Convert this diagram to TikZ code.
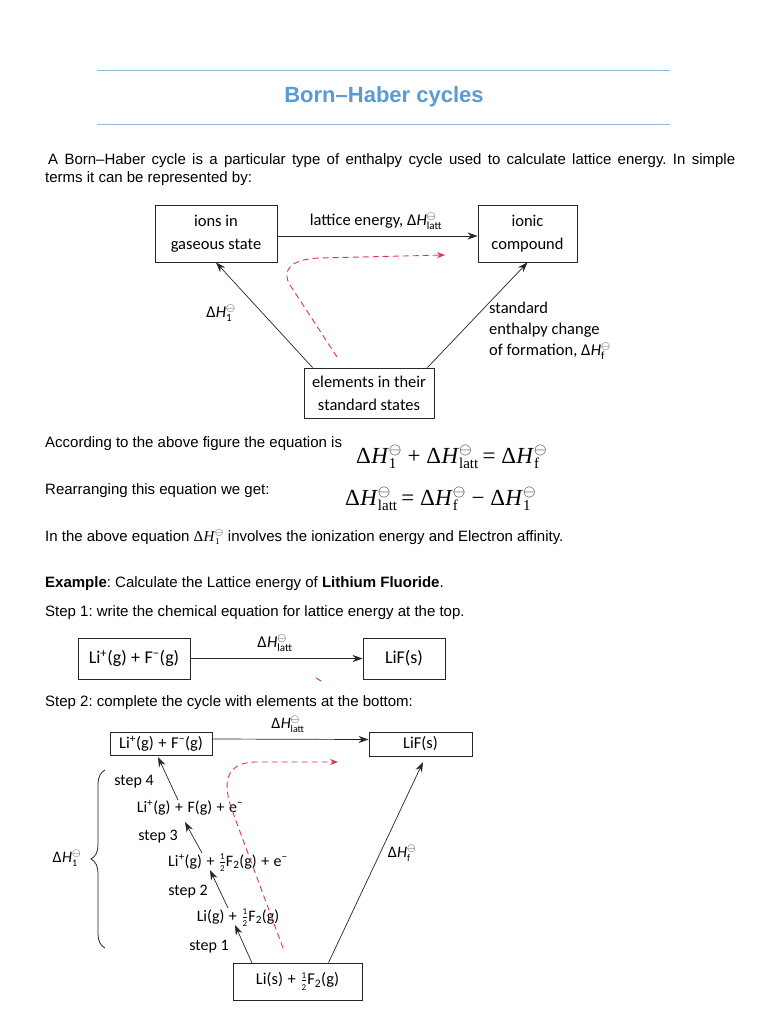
\RequirePackage{fix-cm}
\documentclass[tikz,border=0pt]{standalone}
\usepackage{fontspec}
\setmainfont{Liberation Sans}
\newfontfamily\dfont{Carlito}
\newfontfamily\sfont{Liberation Serif}
\usetikzlibrary{arrows.meta,decorations.pathreplacing}
\definecolor{titleblue}{RGB}{91,155,213}
\definecolor{ruleblue}{RGB}{141,185,232}
\definecolor{dashred}{RGB}{226,52,72}
\frenchspacing
\newcommand{\dHs}[2]{\ensuremath{\mbox{Δ\kern0.3pt\textit{H}}^{\ominus}_{\mbox{\fontsize{#2}{#2}\selectfont #1}}}}
\newcommand{\hlf}{\ensuremath{\frac{\mbox{\fontsize{9}{9}\selectfont 1}}{\mbox{\fontsize{9}{9}\selectfont 2}}}}
\newcommand{\pl}{\hspace{4.5pt}+\hspace{4.5pt}}
\tikzset{
  body/.style={anchor=base west, inner sep=0pt, font=\fontsize{15}{18}\selectfont},
  dbox/.style={draw=black!85, line width=0.9pt, align=center, inner sep=0pt, font=\dfont\fontsize{16.5}{23}\selectfont},
  dboxm/.style={draw=black!85, line width=0.9pt, align=center, inner sep=0pt, font=\dfont\fontsize{18}{22}\selectfont},
  dboxs/.style={draw=black!85, line width=0.9pt, align=center, inner sep=0pt, font=\dfont\fontsize{16.5}{18}\selectfont},
  dtext/.style={inner sep=0pt, font=\dfont\fontsize{16.5}{21}\selectfont},
  dtexts/.style={inner sep=0pt, font=\dfont\fontsize{16}{18}\selectfont},
  arr/.style={-{Stealth[length=10pt,width=7pt]}, line width=0.7pt, black!85},
  reddash/.style={dash pattern=on 6pt off 4pt, dashred, line width=0.9pt, -{Stealth[length=8pt,width=6pt]}},
  eqn/.style={anchor=base west, inner sep=0pt, font=\sfont\fontsize{23}{26}\selectfont}
}
\begin{document}
\begin{tikzpicture}[x=1pt,y=-1pt]
\useasboundingbox[fill=white] (0,0) rectangle (768,1024);
% title
\draw[ruleblue, line width=1pt] (97,71) -- (670,71);
\draw[ruleblue, line width=1pt] (97,125) -- (670,125);
\node[inner sep=0pt, text=titleblue, font=\bfseries\fontsize{22}{26}\selectfont] (title) at (384,97) {Born–Haber cycles};
% paragraph
\node[body] (p1) at (48,165) {\makebox[687pt][s]{A Born–Haber cycle is a particular type of enthalpy cycle used to calculate lattice energy. In simple}};
\node[body] (p2) at (45,183) {terms it can be represented by:};
% diagram 1
\node[dbox, minimum width=122pt, minimum height=57pt] (ions) at (216,233.5) {ions in\\gaseous state};
\node[dbox, minimum width=99pt, minimum height=57pt] (ionic) at (527.5,233.5) {ionic\\compound};
\node[dbox, minimum width=130pt, minimum height=50pt] (elem) at (369,393) {elements in their\\standard states};
\draw[arr] ([yshift=-2.5pt]ions.east) -- ([yshift=-2.5pt]ionic.west);
\node[dtext] (latt) at (376,221) {lattice energy, \dHs{latt}{11}};
\draw[arr] ([xshift=9pt]elem.north west) -- (ions.south);
\draw[arr] ([xshift=-7pt]elem.north east) -- (ionic.south);
\node[dtext] (dh1) at (221,313) {\dHs{1}{11}};
\node[dtext, anchor=north west, align=left] (sef) at (489,302) {standard\\enthalpy change\\of formation, \dHs{f}{11}};
\coordinate (ra) at (337,357);
\coordinate (rb) at (290,285);
\coordinate (rc) at (320,258);
\coordinate (rd) at (445,255);
\draw[reddash] (ra) -- (rb) .. controls (282,272) and (288,259) .. (rc) -- (rd);
% equations
\node[body] (t1) at (45,447) {According to the above figure the equation is};
\node[eqn] (eq1) at (356,463) {\dHs{1}{15} + \dHs{latt}{15}\,= \dHs{f}{15}};
\node[body] (t2) at (45,494) {Rearranging this equation we get:};
\node[eqn] (eq2) at (345,505) {\dHs{latt}{15}\,= \dHs{f}{15} − \dHs{1}{15}};
\node[body] (t3) at (45,541) {In the above equation {\sfont\fontsize{15}{17}\selectfont\dHs{1}{9}} involves the ionization energy and Electron affinity.};
\node[body] (t4) at (45,587) {\textbf{Example}: Calculate the Lattice energy of \textbf{Lithium Fluoride}.};
\node[body] (t5) at (45,616) {Step 1: write the chemical equation for lattice energy at the top.};
% step 1 diagram
\node[dboxm, minimum width=112pt, minimum height=41pt] (a1) at (134,658.5) {Li\textsuperscript{+}(g)\pl F\textsuperscript{−}(g)};
\node[dboxm, minimum width=82pt, minimum height=41pt] (b1) at (404,658.5) {LiF(s)};
\draw[arr] (a1) -- (b1);
\node[dtext] (l1) at (275,643) {\dHs{latt}{11}};
\coordinate (m1a) at (316,678);
\coordinate (m1b) at (321,681);
\draw[dashred, line width=1pt] (m1a) -- (m1b);
\node[body] (t6) at (45,706) {Step 2: complete the cycle with elements at the bottom:};
% step 2 diagram
\node[dboxs, minimum width=102pt, minimum height=23pt] (a2) at (161,743.5) {Li\textsuperscript{+}(g)\pl F\textsuperscript{−}(g)};
\node[dboxs, minimum width=103pt, minimum height=24pt] (b2) at (420.5,744) {LiF(s)};
\draw[arr] ([yshift=4.5pt]a2.east) -- ([yshift=4.5pt]b2.west);
\node[dtexts] (l2) at (288,724) {\dHs{latt}{10}};
\node[dtexts] (s4) at (134,782) {step 4};
\node[dtexts] (m3) at (190,808) {Li\textsuperscript{+}(g)\pl F(g)\pl e\textsuperscript{−}};
\node[dtexts] (s3) at (158,837) {step 3};
\node[dtexts] (m2) at (228,863) {Li\textsuperscript{+}(g)\pl\hlf F\textsubscript{2}(g)\pl e\textsuperscript{−}};
\node[dtexts] (s2) at (188,892) {step 2};
\node[dtexts] (m1) at (238,918) {Li(g)\pl\hlf F\textsubscript{2}(g)};
\node[dtexts] (s1) at (209,947) {step 1};
\node[dboxs, minimum width=129pt, minimum height=37pt] (c2) at (297.5,981.5) {Li(s)\pl\hlf F\textsubscript{2}(g)};
\coordinate (p4t) at (178,800);
\coordinate (p4h) at (158,757);
\coordinate (p3t) at (202,853);
\coordinate (p3h) at (185,822);
\coordinate (p2t) at (228,908);
\coordinate (p2h) at (210,870);
\coordinate (p1t) at (252,963);
\coordinate (p1h) at (235,925);
\draw[arr] (p4t) -- (p4h);
\draw[arr] (p3t) -- (p3h);
\draw[arr] (p2t) -- (p2h);
\draw[arr] (p1t) -- (p1h);
\coordinate (fh) at (423,762);
\draw[arr] ([xshift=96pt]c2.north west) -- (fh);
\node[dtexts] (dhf) at (402,853) {\dHs{f}{10}};
\coordinate (bra) at (105,948);
\coordinate (brb) at (105,770);
\draw[black!85, line width=0.8pt, decorate, decoration={brace, amplitude=14pt}] (bra) -- (brb);
\node[dtexts] (dh1b) at (67,858) {\dHs{1}{10}};
\coordinate (qa) at (283,948);
\coordinate (qb) at (232,810);
\coordinate (qc) at (255,762);
\coordinate (qd) at (338,762);
\draw[reddash] (qa) -- (qb) .. controls (222,782) and (226,763) .. (qc) -- (qd);
\end{tikzpicture}
\end{document}
